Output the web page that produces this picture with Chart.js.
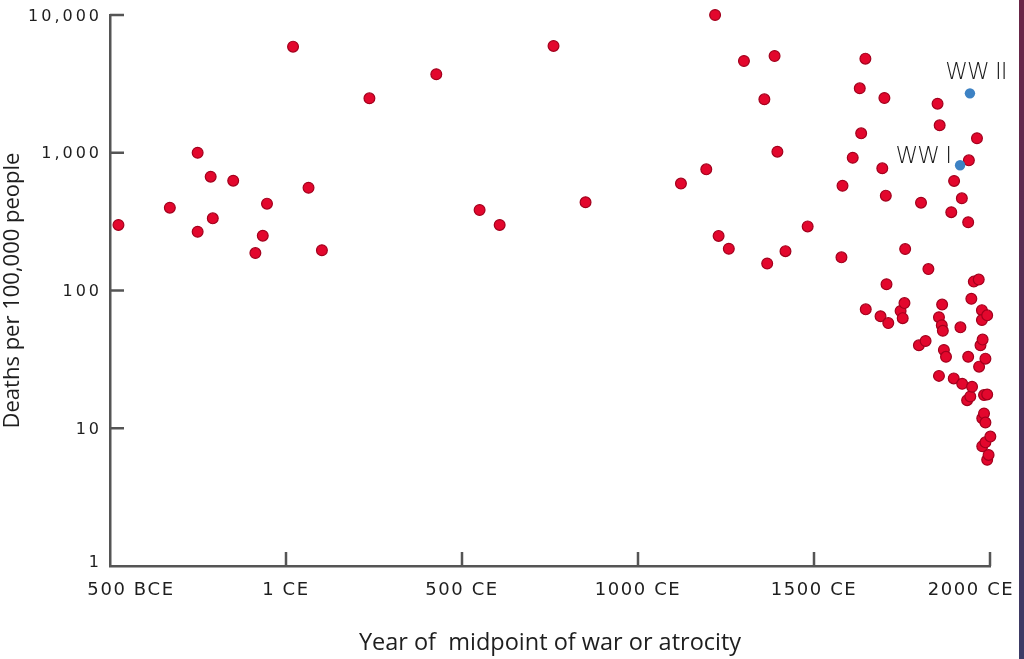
<!DOCTYPE html>
<html>
<head>
<meta charset="utf-8">
<script src="https://cdn.jsdelivr.net/npm/chart.js@4/dist/chart.umd.min.js"></script>
<style>
  html, body { margin: 0; padding: 0; background: #fff; }
  #wrap { position: relative; width: 1024px; height: 659px; overflow: hidden; }
  #edge { position: absolute; right: 0; top: 0; width: 5px; height: 659px;
          background: linear-gradient(#6a2546, #3b3b66); }
</style>
</head>
<body>
<div id="wrap">
  <canvas id="chart" width="1024" height="659"></canvas>
  <div id="edge"></div>
</div>
<script>
// red dots: year of midpoint, deaths per 100,000
const years = [-476, -330, -251, -251, -214, -208, -150, -87, -66, -54, 20, 64, 102, 237, 427, 550, 607, 760, 851,
  1122, 1194, 1219, 1229, 1258, 1301, 1359, 1367, 1388, 1396, 1419, 1482, 1578, 1581, 1610, 1630, 1634, 1646, 1647,
  1689, 1694, 1700, 1704, 1706, 1711, 1746, 1752, 1757, 1759, 1798, 1804, 1817, 1825, 1851, 1855, 1855, 1857, 1863,
  1864, 1866, 1869, 1875, 1890, 1897, 1898, 1916, 1920, 1921, 1935, 1938, 1938, 1940, 1944, 1947, 1949, 1954, 1963,
  1968, 1969, 1973, 1977, 1977, 1978, 1978, 1979, 1983, 1983, 1987, 1987, 1987, 1992, 1992, 1992, 1996, 2001];
const deaths = [299, 399, 1000, 267, 670, 334, 627, 187, 250, 427, 5890, 557, 196, 2484, 3715, 384, 299, 5960, 437,
  597, 758, 10000, 249, 201, 4635, 2443, 157, 5040, 1018, 193, 292, 174, 576, 920, 2938, 1383, 4820, 73,
  65, 771, 2497, 488, 111, 58, 71, 63, 81, 200, 40, 434, 43, 143, 2270, 64, 24, 1582, 56,
  79, 51, 37, 33, 370, 23, 624, 54, 467, 21, 16, 313, 33, 881, 17, 87, 20, 116, 1274,
  120, 28, 40, 72, 61, 11.8, 7.4, 44, 17.4, 12.8, 32, 11, 7.9, 66, 17.6, 5.9, 6.4, 8.7];

// world wars, highlighted in blue
const wwYears = [1915, 1943];
const wwDeaths = [811, 2700];
const wwNames = ['WW I', 'WW II'];

const xTicks = [-500, 0, 500, 1000, 1500, 2000];
const yTicks = [1, 10, 100, 1000, 10000];

const axisColor = '#555';
const textColor = '#1e1e1e';

function yearLabel(v) {
  if (v < 0) return (-v) + ' BCE';
  if (v === 0) return '1 CE';
  return v + ' CE';
}

// inward tick marks, spaced-out tick labels and the war labels
const extras = {
  id: 'extras',
  afterDraw(chart) {
    const ctx = chart.ctx;
    const xs = chart.scales.x, ys = chart.scales.y;
    const area = chart.chartArea;
    ctx.save();
    ctx.strokeStyle = axisColor;
    ctx.lineWidth = 2.5;
    ctx.beginPath();
    xTicks.slice(1).forEach(v => {
      const px = xs.getPixelForValue(v);
      ctx.moveTo(px, area.bottom);
      ctx.lineTo(px, area.bottom - 14);
    });
    yTicks.slice(1).forEach(v => {
      const py = ys.getPixelForValue(v);
      ctx.moveTo(area.left, py);
      ctx.lineTo(area.left + 14, py);
    });
    ctx.stroke();

    ctx.fillStyle = textColor;
    ctx.textBaseline = 'alphabetic';

    // x labels: end labels pulled inward
    ctx.font = '18px "DejaVu Sans", sans-serif';
    ctx.letterSpacing = '1.6px';
    ctx.textAlign = 'center';
    xTicks.forEach((v, i) => {
      let px = xs.getPixelForValue(v);
      if (i === 0) px += 21;
      if (i === xTicks.length - 1) px -= 19;
      ctx.fillText(yearLabel(v), px, area.bottom + 29);
    });

    // y labels
    ctx.font = '16px "DejaVu Sans", sans-serif';
    ctx.letterSpacing = '3px';
    ctx.textAlign = 'right';
    yTicks.forEach((v, i) => {
      const py = ys.getPixelForValue(v);
      ctx.fillText(v.toLocaleString('en-US'), area.left - 8, i === 0 ? py + 1 : py + 5.5);
    });

    // war labels
    ctx.letterSpacing = '-1px';
    ctx.fillStyle = '#1a1a1a';
    ctx.font = '200 23px "DejaVu Sans", sans-serif';
    ctx.textBaseline = 'middle';
    const meta = chart.getDatasetMeta(0);
    meta.data.forEach((pt, i) => {
      if (wwNames[i] === 'WW II') {
        ctx.textAlign = 'center';
        ctx.fillText(wwNames[i], pt.x + 6, pt.y - 20);
      } else {
        ctx.textAlign = 'right';
        ctx.fillText(wwNames[i], pt.x - 9, pt.y - 8);
      }
    });
    ctx.restore();
  }
};

new Chart(document.getElementById('chart'), {
  type: 'scatter',
  data: {
    datasets: [
      {
        label: 'World wars',
        data: wwYears.map((y, i) => ({ x: y, y: wwDeaths[i] })),
        backgroundColor: '#3d82c4',
        borderColor: '#3d82c4',
        borderWidth: 0,
        pointRadius: 5.2,
        clip: false
      },
      {
        label: 'Wars and atrocities',
        data: years.map((y, i) => ({ x: y, y: deaths[i] })),
        backgroundColor: '#e3072d',
        borderColor: '#a3001d',
        borderWidth: 1.2,
        pointRadius: 5.4,
        clip: false
      }
    ]
  },
  options: {
    responsive: false,
    animation: false,
    layout: { padding: { top: 15, right: 34, left: 0, bottom: 0 } },
    plugins: { legend: { display: false }, tooltip: { enabled: false } },
    scales: {
      x: {
        type: 'linear',
        min: -500,
        max: 2000,
        afterBuildTicks: s => { s.ticks = xTicks.map(v => ({ value: v })); },
        afterFit: s => { s.height = 93; s.paddingLeft = 0; s.paddingRight = 0; },
        grid: { display: false, drawTicks: false },
        border: { display: true, color: axisColor, width: 2.5 },
        ticks: { display: false },
        title: {
          display: true,
          text: 'Year of  midpoint of war or atrocity',
          color: textColor,
          font: { family: '"Open Sans", sans-serif', size: 23.5 },
          padding: { top: 0, bottom: 2 }
        }
      },
      y: {
        type: 'logarithmic',
        min: 1,
        max: 10000,
        afterBuildTicks: s => { s.ticks = yTicks.map(v => ({ value: v })); },
        afterFit: s => { s.width = 110; s.paddingTop = 0; s.paddingBottom = 0; },
        grid: { display: false, drawTicks: false },
        border: { display: true, color: axisColor, width: 2.5 },
        ticks: { display: false },
        title: {
          display: true,
          text: 'Deaths per 100,000 people',
          color: textColor,
          font: { family: '"Open Sans", sans-serif', size: 22 },
          padding: { top: 0, bottom: 0 }
        }
      }
    }
  },
  plugins: [extras]
});
</script>
</body>
</html>
